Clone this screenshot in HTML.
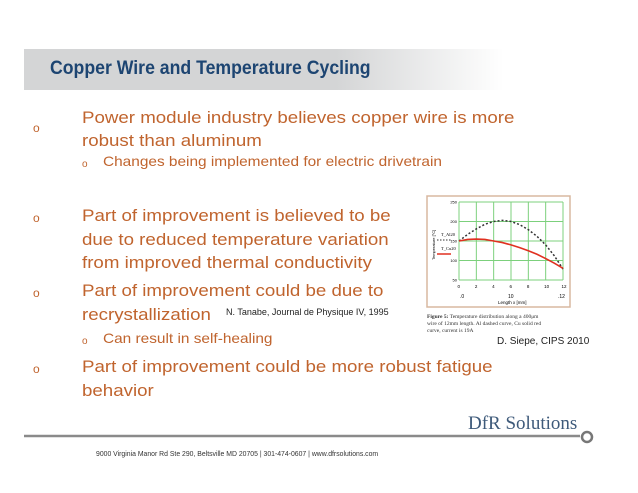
<!DOCTYPE html>
<html><head><meta charset="utf-8"><style>
body{margin:0;width:638px;height:493px;background:#fff;position:relative;overflow:hidden;font-family:"Liberation Sans",sans-serif}
.a{position:absolute;white-space:nowrap}
.b{color:#c0642e;font-size:17px;transform:scaleX(1.1);transform-origin:left}
.s{color:#c0642e;font-size:14px;transform:scaleX(1.1);transform-origin:left}
.o{color:#c0642e;font-size:12px}
</style></head><body>
<div class="a" style="left:24px;top:49px;width:480px;height:41px;background:linear-gradient(90deg,#d4d5d6 0%,#d4d5d6 65%,#fff 100%)"></div>
<div class="a" style="left:50px;top:58px;font-size:19px;font-weight:bold;color:#1d4572;transform:scaleX(0.93);transform-origin:left">Copper Wire and Temperature Cycling</div>

<div class="a o" style="left:33px;top:121px">o</div>
<div class="a b" style="left:82px;top:106px;line-height:23px">Power module industry believes copper wire is more<br>robust than aluminum</div>
<div class="a o" style="left:82px;top:159px;font-size:10px">o</div>
<div class="a s" style="left:103px;top:153px">Changes being implemented for electric drivetrain</div>

<div class="a o" style="left:33px;top:211px">o</div>
<div class="a b" style="left:82px;top:204px;line-height:23.5px">Part of improvement is believed to be<br>due to reduced temperature variation<br>from improved thermal conductivity</div>
<div class="a o" style="left:33px;top:286px">o</div>
<div class="a b" style="left:82px;top:279px;line-height:23.5px">Part of improvement could be due to<br>recrystallization</div>
<div class="a" style="left:226px;top:307px;font-size:9px;color:#222;background:#fff">N. Tanabe, Journal de Physique IV, 1995</div>
<div class="a o" style="left:82px;top:336px;font-size:10px">o</div>
<div class="a s" style="left:103px;top:330px">Can result in self-healing</div>
<div class="a o" style="left:33px;top:362px">o</div>
<div class="a b" style="left:82px;top:355px;line-height:23.5px">Part of improvement could be more robust fatigue<br>behavior</div>
<div class="a" style="left:497px;top:336px;font-size:10px;color:#222">D. Siepe, CIPS 2010</div>

<svg class="a" style="left:0;top:0" width="638" height="493">
<rect x="427" y="196" width="143" height="111" fill="#fff" stroke="#d8b8a0" stroke-width="1.5"/>
<g id="grid"></g>
<path id="al" fill="none" stroke="#333" stroke-width="1.5" stroke-dasharray="2,2"/>
<path id="cu" fill="none" stroke="#e03020" stroke-width="1.6"/>
<text x="441" y="236" font-size="4.5" font-family="Liberation Serif">T_Al20</text>
<line x1="437" y1="240" x2="452" y2="240" stroke="#333" stroke-dasharray="1.5,1.5"/>
<text x="441" y="250" font-size="4.5" font-family="Liberation Serif">T_Cu20</text>
<line x1="437" y1="254" x2="451" y2="254" stroke="#e03020" stroke-width="1.5"/>
<text x="0" y="0" font-size="4" transform="translate(435 260) rotate(-90)">Temperature [°C]</text>
<text x="460" y="298" font-size="5">.0</text>
<text x="508" y="298" font-size="5">10</text>
<text x="558" y="298" font-size="5">.12</text>
<text x="498" y="304" font-size="4.5">Length x [mm]</text>
<text x="427" y="318" font-size="5.5" font-family="Liberation Serif" fill="#333"><tspan font-weight="bold">Figure 5:</tspan> Temperature distribution along a 400μm</text>
<text x="427" y="325" font-size="5.5" font-family="Liberation Serif" fill="#333">wire of 12mm length. Al dashed curve, Cu solid red</text>
<text x="427" y="332" font-size="5.5" font-family="Liberation Serif" fill="#333">curve, current is 19A</text>
<line x1="24" y1="436" x2="580" y2="436" stroke="#8a8a8a" stroke-width="2.5"/>
<circle cx="587" cy="437" r="5" fill="#fff" stroke="#777" stroke-width="2.5"/>
</svg>
<div class="a" style="left:468px;top:413px;font-family:'Liberation Serif',serif;font-size:19px;color:#3e5a7a">DfR Solutions</div>
<div class="a" style="left:96px;top:449px;font-size:7.3px;color:#333;transform:scaleX(0.94);transform-origin:left">9000 Virginia Manor Rd Ste 290, Beltsville MD 20705 | 301-474-0607 | www.dfrsolutions.com</div>
<script>
const xs=[0,1,2,3,4,5,6,7,8,9,10,11,12];
const alTemps=[150,167,181,193,200,203,200,192,179,162,140,112,78];
const cuTemps=[150,154,155,154,150,146,140,133,125,116,105,93,80];
const yTicks=[50,100,150,200,250];
const xTicks=[0,2,4,6,8,10,12];
const X=v=>459+v/12*104, Y=v=>280-(v-50)/200*78;
const ns="http://www.w3.org/2000/svg",g=document.getElementById('grid');
function ln(x1,y1,x2,y2,c){const l=document.createElementNS(ns,'line');l.setAttribute('x1',x1);l.setAttribute('y1',y1);l.setAttribute('x2',x2);l.setAttribute('y2',y2);l.setAttribute('stroke',c);g.appendChild(l);return l;}
yTicks.forEach(t=>{const l=ln(459,Y(t),563,Y(t),'#7cd07c');


const tx=document.createElementNS(ns,'text');tx.setAttribute('x',457);tx.setAttribute('y',Y(t)+1.5);tx.setAttribute('font-size','4');tx.setAttribute('text-anchor','end');tx.textContent=t;


g.appendChild(tx);});
xTicks.forEach(t=>{const l=ln(X(t),Y(250),X(t),Y(50),'#7cd07c');


const tx=document.createElementNS(ns,'text');tx.setAttribute('x',X(t)-1.5);tx.setAttribute('y',288);tx.setAttribute('font-size','4.5');tx.textContent=t;


g.appendChild(tx);});
const d=a=>a.map((v,i)=>(i?'L':'M')+X(xs[i])+' '+Y(v)).join(' ');
document.getElementById('al').setAttribute('d',d(alTemps));
document.getElementById('cu').setAttribute('d',d(cuTemps));
</script>
</body></html>
